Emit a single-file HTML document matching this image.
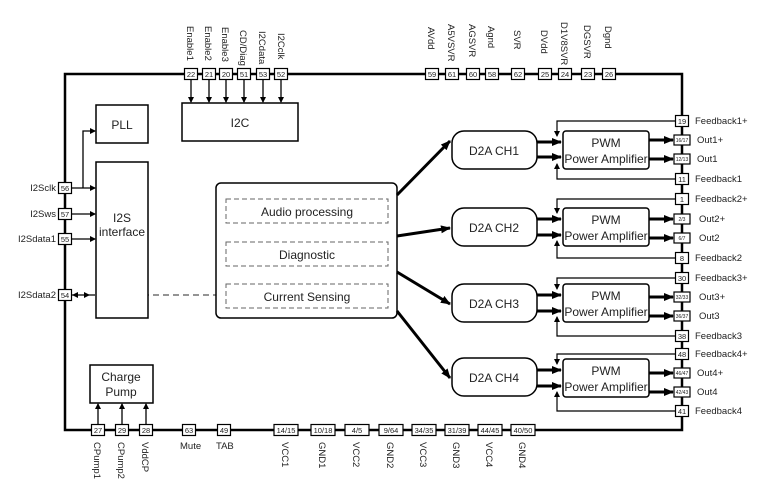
<!DOCTYPE html>
<html><head><meta charset="utf-8"><style>
html,body{margin:0;padding:0;background:#fff;}
svg{display:block;font-family:"Liberation Sans",Arial,sans-serif;}
text{fill:#222;}
</style></head><body>
<svg width="765" height="487" viewBox="0 0 765 487" xmlns="http://www.w3.org/2000/svg">
<defs>
<marker id="a" markerWidth="6" markerHeight="6" refX="5" refY="3" orient="auto" markerUnits="userSpaceOnUse"><path d="M0,0 L6,3 L0,6 z" fill="#000"/></marker>
<marker id="b" markerWidth="10" markerHeight="8" refX="9" refY="4" orient="auto" markerUnits="userSpaceOnUse"><path d="M0,0 L10,4 L0,8 z" fill="#000"/></marker>
</defs>
<!-- frame -->
<rect x="65" y="74" width="617" height="356" fill="none" stroke="#000" stroke-width="2.5"/>

<g fill="none" stroke="#000" stroke-width="1.3">
<!-- I2C arrows -->
<line x1="191" y1="80" x2="191" y2="102" marker-end="url(#a)"/>
<line x1="209" y1="80" x2="209" y2="102" marker-end="url(#a)"/>
<line x1="226" y1="80" x2="226" y2="102" marker-end="url(#a)"/>
<line x1="244" y1="80" x2="244" y2="102" marker-end="url(#a)"/>
<line x1="263" y1="80" x2="263" y2="102" marker-end="url(#a)"/>
<line x1="281" y1="80" x2="281" y2="102" marker-end="url(#a)"/>
<!-- left pins -->
<line x1="71" y1="188" x2="95" y2="188" marker-end="url(#a)"/>
<polyline points="83,188 83,131 95,131" marker-end="url(#a)"/>
<line x1="71" y1="214" x2="95" y2="214" marker-end="url(#a)"/>
<line x1="71" y1="239" x2="95" y2="239" marker-end="url(#a)"/>
<line x1="72" y1="295" x2="95" y2="295"/>
<path d="M72,295 l6,-3 v6 z M90,295 l-6,-3 v6 z M96,295 l6,-3 v6 z" fill="#000" stroke="none"/>
<line x1="103" y1="295" x2="216" y2="295" stroke="#555" stroke-dasharray="6,4"/>
<!-- charge pump arrows -->
<line x1="98" y1="425" x2="98" y2="404" marker-end="url(#a)"/>
<line x1="122" y1="425" x2="122" y2="404" marker-end="url(#a)"/>
<line x1="146" y1="425" x2="146" y2="404" marker-end="url(#a)"/>
</g>

<g fill="#fff" stroke="#000" stroke-width="1.5">
<rect x="182" y="103" width="116" height="38"/>
<rect x="96" y="105" width="52" height="38"/>
<rect x="96" y="162" width="52" height="156"/>
<rect x="90" y="365" width="63" height="38"/>
<rect x="216" y="183" width="181" height="135" rx="5"/>
<rect x="452" y="131" width="85" height="38" rx="12"/>
<rect x="452" y="208" width="85" height="38" rx="12"/>
<rect x="452" y="284" width="85" height="38" rx="12"/>
<rect x="452" y="358" width="85" height="38" rx="12"/>
<rect x="563" y="131" width="86" height="38" rx="3"/>
<rect x="563" y="208" width="86" height="38" rx="3"/>
<rect x="563" y="284" width="86" height="38" rx="3"/>
<rect x="563" y="359" width="86" height="38" rx="3"/>
</g>
<g fill="none" stroke="#666" stroke-width="1" stroke-dasharray="5,3">
<rect x="226" y="199" width="162" height="24"/>
<rect x="226" y="242" width="162" height="24"/>
<rect x="226" y="284" width="162" height="24"/>
</g>

<!-- thick arrows -->
<g stroke="#000" stroke-width="3" fill="none">
<line x1="397" y1="195" x2="450" y2="141" marker-end="url(#b)"/>
<line x1="397" y1="236" x2="450" y2="228" marker-end="url(#b)"/>
<line x1="397" y1="272" x2="450" y2="304" marker-end="url(#b)"/>
<line x1="397" y1="311" x2="450" y2="378" marker-end="url(#b)"/>
<line x1="537" y1="142" x2="561" y2="142" marker-end="url(#b)"/>
<line x1="537" y1="157" x2="561" y2="157" marker-end="url(#b)"/>
<line x1="537" y1="219" x2="561" y2="219" marker-end="url(#b)"/>
<line x1="537" y1="235" x2="561" y2="235" marker-end="url(#b)"/>
<line x1="537" y1="295" x2="561" y2="295" marker-end="url(#b)"/>
<line x1="537" y1="311" x2="561" y2="311" marker-end="url(#b)"/>
<line x1="537" y1="370" x2="561" y2="370" marker-end="url(#b)"/>
<line x1="537" y1="386" x2="561" y2="386" marker-end="url(#b)"/>
<line x1="649" y1="140" x2="673" y2="140" marker-end="url(#b)"/>
<line x1="649" y1="159" x2="673" y2="159" marker-end="url(#b)"/>
<line x1="649" y1="219" x2="673" y2="219" marker-end="url(#b)"/>
<line x1="649" y1="238" x2="673" y2="238" marker-end="url(#b)"/>
<line x1="649" y1="297" x2="673" y2="297" marker-end="url(#b)"/>
<line x1="649" y1="316" x2="673" y2="316" marker-end="url(#b)"/>
<line x1="649" y1="373" x2="673" y2="373" marker-end="url(#b)"/>
<line x1="649" y1="392" x2="673" y2="392" marker-end="url(#b)"/>
</g>
<!-- feedback loops -->
<g stroke="#000" stroke-width="1.2" fill="none">
<polyline points="676,121 557,121 557,136" marker-end="url(#a)"/>
<polyline points="676,179 557,179 557,164" marker-end="url(#a)"/>
<polyline points="676,199 557,199 557,213" marker-end="url(#a)"/>
<polyline points="676,258 557,258 557,241" marker-end="url(#a)"/>
<polyline points="676,278 557,278 557,289" marker-end="url(#a)"/>
<polyline points="676,336 557,336 557,317" marker-end="url(#a)"/>
<polyline points="676,354 557,354 557,364" marker-end="url(#a)"/>
<polyline points="676,411 557,411 557,392" marker-end="url(#a)"/>
</g>

<!-- pins -->
<g fill="#fff" stroke="#000" stroke-width="1.2">
<rect x="184.5" y="68.5" width="13" height="11"/><rect x="202.5" y="68.5" width="13" height="11"/><rect x="219.5" y="68.5" width="13" height="11"/><rect x="237.5" y="68.5" width="13" height="11"/><rect x="256.5" y="68.5" width="13" height="11"/><rect x="274.5" y="68.5" width="13" height="11"/>
<rect x="425.5" y="68.5" width="13" height="11"/><rect x="445.5" y="68.5" width="13" height="11"/><rect x="466.5" y="68.5" width="13" height="11"/><rect x="485.5" y="68.5" width="13" height="11"/><rect x="511.5" y="68.5" width="13" height="11"/><rect x="538.5" y="68.5" width="13" height="11"/><rect x="558.5" y="68.5" width="13" height="11"/><rect x="581.5" y="68.5" width="13" height="11"/><rect x="602.5" y="68.5" width="13" height="11"/>
<rect x="58.5" y="182.5" width="13" height="11"/><rect x="58.5" y="208.5" width="13" height="11"/><rect x="58.5" y="233.5" width="13" height="11"/><rect x="58.5" y="289.5" width="13" height="11"/>
<rect x="91.5" y="424.5" width="13" height="11"/><rect x="115.5" y="424.5" width="13" height="11"/><rect x="139.5" y="424.5" width="13" height="11"/><rect x="182.5" y="424.5" width="13" height="11"/><rect x="217.5" y="424.5" width="13" height="11"/>
<rect x="274" y="424.5" width="24" height="11"/><rect x="311" y="424.5" width="24" height="11"/><rect x="345" y="424.5" width="24" height="11"/><rect x="379" y="424.5" width="24" height="11"/><rect x="412" y="424.5" width="24" height="11"/><rect x="445" y="424.5" width="24" height="11"/><rect x="478" y="424.5" width="24" height="11"/><rect x="511" y="424.5" width="24" height="11"/>
<rect x="675.5" y="115.5" width="13" height="11"/><rect x="674" y="135" width="16" height="10"/><rect x="674" y="154" width="16" height="10"/><rect x="675.5" y="173.5" width="13" height="11"/>
<rect x="675.5" y="193.5" width="13" height="11"/><rect x="674" y="214" width="16" height="10"/><rect x="674" y="233" width="16" height="10"/><rect x="675.5" y="252.5" width="13" height="11"/>
<rect x="675.5" y="272.5" width="13" height="11"/><rect x="674" y="292" width="16" height="10"/><rect x="674" y="311" width="16" height="10"/><rect x="675.5" y="330.5" width="13" height="11"/>
<rect x="675.5" y="348.5" width="13" height="11"/><rect x="674" y="368" width="16" height="10"/><rect x="674" y="387" width="16" height="10"/><rect x="675.5" y="405.5" width="13" height="11"/>
</g>
<g font-size="7.5" text-anchor="middle">
<text x="191" y="77">22</text><text x="209" y="77">21</text><text x="226" y="77">20</text><text x="244" y="77">51</text><text x="263" y="77">53</text><text x="281" y="77">52</text>
<text x="432" y="77">59</text><text x="452" y="77">61</text><text x="473" y="77">60</text><text x="492" y="77">58</text><text x="518" y="77">62</text><text x="545" y="77">25</text><text x="565" y="77">24</text><text x="588" y="77">23</text><text x="609" y="77">26</text>
<text x="65" y="191">56</text><text x="65" y="217">57</text><text x="65" y="242">55</text><text x="65" y="298">54</text>
<text x="98" y="433">27</text><text x="122" y="433">29</text><text x="146" y="433">28</text><text x="189" y="433">63</text><text x="224" y="433">49</text>
<text x="286" y="433">14/15</text><text x="323" y="433">10/18</text><text x="357" y="433">4/5</text><text x="391" y="433">9/64</text><text x="424" y="433">34/35</text><text x="457" y="433">31/39</text><text x="490" y="433">44/45</text><text x="523" y="433">40/50</text>
<text x="682" y="124">19</text><text x="682" y="182">11</text><text x="682" y="202">1</text><text x="682" y="261">8</text><text x="682" y="339">38</text><text x="682" y="281">30</text><text x="682" y="357">48</text><text x="682" y="414">41</text>
</g>
<g font-size="5" text-anchor="middle">
<text x="682" y="142">16/17</text><text x="682" y="161">12/13</text><text x="682" y="221">2/3</text><text x="682" y="240">6/7</text>
<text x="682" y="299">32/33</text><text x="682" y="318">36/37</text><text x="682" y="375">46/47</text><text x="682" y="394">42/43</text>
</g>

<!-- block labels -->
<g font-size="12" text-anchor="middle">
<text x="122" y="129">PLL</text>
<text x="240" y="127">I2C</text>
<text x="122" y="222">I2S</text><text x="122" y="236">interface</text>
<text x="121" y="381">Charge</text><text x="121" y="396">Pump</text>
<text x="307" y="216">Audio processing</text>
<text x="307" y="259">Diagnostic</text>
<text x="307" y="301">Current Sensing</text>
<text x="494" y="155">D2A CH1</text><text x="494" y="232">D2A CH2</text><text x="494" y="308">D2A CH3</text><text x="494" y="382">D2A CH4</text>
<text x="606" y="147">PWM</text><text x="606" y="163">Power Amplifier</text>
<text x="606" y="224">PWM</text><text x="606" y="240">Power Amplifier</text>
<text x="606" y="300">PWM</text><text x="606" y="316">Power Amplifier</text>
<text x="606" y="375">PWM</text><text x="606" y="391">Power Amplifier</text>
</g>
<g font-size="9.5" text-anchor="end">
<text x="56" y="191">I2Sclk</text><text x="56" y="217">I2Sws</text><text x="56" y="242">I2Sdata1</text><text x="56" y="298">I2Sdata2</text>
</g>
<g font-size="9.5">
<text x="695" y="124">Feedback1+</text><text x="697" y="143">Out1+</text><text x="697" y="162">Out1</text><text x="695" y="182">Feedback1</text>
<text x="695" y="202">Feedback2+</text><text x="699" y="222">Out2+</text><text x="699" y="241">Out2</text><text x="695" y="261">Feedback2</text>
<text x="695" y="281">Feedback3+</text><text x="699" y="300">Out3+</text><text x="699" y="319">Out3</text><text x="695" y="339">Feedback3</text>
<text x="695" y="357">Feedback4+</text><text x="697" y="376">Out4+</text><text x="697" y="395">Out4</text><text x="695" y="414">Feedback4</text>
<text x="180" y="449">Mute</text><text x="216" y="449">TAB</text>
</g>
<!-- rotated labels top (start at top, reading downward) -->
<g font-size="9.5">
<text transform="translate(187,26) rotate(90)">Enable1</text>
<text transform="translate(205,26) rotate(90)">Enable2</text>
<text transform="translate(222,27) rotate(90)">Enable3</text>
<text transform="translate(240,30) rotate(90)">CD/Diag</text>
<text transform="translate(259,31) rotate(90)">I2Cdata</text>
<text transform="translate(278,33) rotate(90)">I2Cclk</text>
<text transform="translate(428,27) rotate(90)">AVdd</text>
<text transform="translate(448,24) rotate(90)">A5VSVR</text>
<text transform="translate(469,24) rotate(90)">AGSVR</text>
<text transform="translate(488,26) rotate(90)">Agnd</text>
<text transform="translate(514,30) rotate(90)">SVR</text>
<text transform="translate(541,30) rotate(90)">DVdd</text>
<text transform="translate(561,22) rotate(90)">D1V8SVR</text>
<text transform="translate(584,25) rotate(90)">DGSVR</text>
<text transform="translate(605,26) rotate(90)">Dgnd</text>
<text transform="translate(94,442) rotate(90)">CPump1</text>
<text transform="translate(118,442) rotate(90)">CPump2</text>
<text transform="translate(142,442) rotate(90)">VddCP</text>
<text transform="translate(282,442) rotate(90)">VCC1</text>
<text transform="translate(319,442) rotate(90)">GND1</text>
<text transform="translate(353,442) rotate(90)">VCC2</text>
<text transform="translate(387,442) rotate(90)">GND2</text>
<text transform="translate(420,442) rotate(90)">VCC3</text>
<text transform="translate(453,442) rotate(90)">GND3</text>
<text transform="translate(486,442) rotate(90)">VCC4</text>
<text transform="translate(519,442) rotate(90)">GND4</text>
</g>
</svg>
</body></html>
